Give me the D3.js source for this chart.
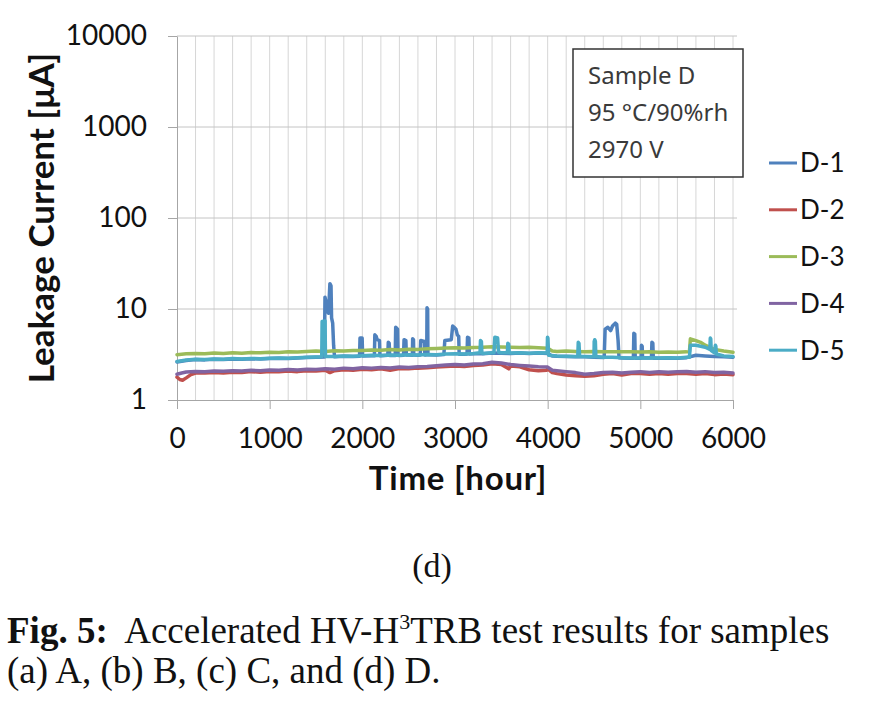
<!DOCTYPE html>
<html><head><meta charset="utf-8">
<script src="https://cdn.jsdelivr.net/npm/d3@7"></script>
<style>
body{margin:0;background:#fff;}
svg{display:block;}
</style></head>
<body>
<svg id="chart" width="869" height="702"></svg>
<script>
// ---------- DATA ----------
const seriesNames = ["D-1","D-2","D-3","D-4","D-5"];
const seriesColors = ["#4F81BD","#C0504D","#9BBB59","#8064A2","#4BACC6"];
const yTickValues = [1,10,100,1000,10000];
const xTickValues = [0,1000,2000,3000,4000,5000,6000];
const annotationLines = ["Sample D","95 °C/90%rh","2970 V"];

const d1Hours = [0,100,200,300,400,500,600,700,800,900,1000,1100,1200,1300,1400,1500,1590,1597,1608,1615,1635,1650,1662,1668,1680,1690,1700,1800,1900,1970,1975,1998,2003,2100,2130,2135,2150,2160,2185,2190,2200,2275,2280,2290,2295,2300,2355,2360,2380,2385,2400,2445,2450,2470,2475,2500,2540,2543,2552,2555,2600,2625,2630,2670,2675,2695,2698,2705,2708,2800,2880,2890,2960,2975,2990,3010,3025,3040,3045,3100,3130,3135,3150,3155,3200,3300,3400,3500,3600,3700,3800,3900,4000,4050,4100,4200,4300,4400,4500,4610,4620,4650,4680,4700,4730,4745,4760,4770,4800,4900,4925,4930,4940,4945,5008,5012,5020,5024,5100,5120,5125,5135,5140,5200,5300,5400,5500,5600,5700,5800,5900,6000];
const d1Values = [2.62,2.72,2.78,2.76,2.8,2.78,2.83,2.8,2.84,2.82,2.86,2.88,2.85,2.9,2.93,2.95,2.96,13.5,12,10,9,19,18,8,7,4,2.98,3.02,3.0,3.03,4.8,4.8,3.04,3.07,3.06,5.2,5.0,4.6,4.5,3.06,3.06,3.1,4.3,4.2,3.08,3.1,3.08,6.3,6.0,3.1,3.08,3.1,4.6,4.5,3.12,3.12,3.1,4.7,4.6,3.12,3.1,3.12,4.5,4.4,3.12,3.14,10.3,10,3.14,3.13,3.16,4.5,4.6,6.5,6.3,6.0,5.2,5.0,3.18,3.18,3.2,4.9,4.8,3.2,3.22,3.22,3.28,3.26,3.25,3.28,3.24,3.28,3.25,3.05,3.02,3.0,2.98,2.98,2.95,2.93,6.0,6.3,5.8,6.5,7.0,6.8,4.5,2.92,2.9,2.88,2.88,5.4,5.3,2.88,2.88,4.0,3.9,2.9,2.9,2.9,4.3,4.2,2.88,2.88,2.9,2.88,2.92,3.1,3.05,3.0,2.98,2.95];

const d2Hours = [0,30,60,100,150,200,300,400,500,600,700,800,900,1000,1100,1200,1300,1400,1500,1600,1650,1700,1800,1900,2000,2100,2200,2300,2400,2500,2600,2700,2800,2900,3000,3100,3200,3300,3400,3500,3580,3600,3700,3800,3900,3990,4000,4050,4100,4200,4300,4400,4500,4600,4700,4800,4900,5000,5100,5200,5300,5400,5500,5600,5700,5800,5900,6000];
const d2Values = [1.78,1.68,1.65,1.75,1.9,1.98,1.98,2.0,1.98,2.02,2.0,2.05,2.02,2.06,2.05,2.08,2.05,2.1,2.08,2.12,2.0,2.1,2.15,2.12,2.18,2.15,2.2,2.12,2.22,2.2,2.24,2.26,2.3,2.34,2.36,2.34,2.4,2.42,2.5,2.46,2.2,2.36,2.32,2.15,2.1,2.12,2.2,2.0,1.95,1.88,1.85,1.82,1.85,1.92,1.95,1.88,1.95,1.96,1.92,1.96,1.92,1.96,1.95,1.92,1.96,1.9,1.93,1.9];

const d3Hours = [0,100,200,300,400,500,600,700,800,900,1000,1100,1200,1300,1400,1500,1600,1700,1800,1900,2000,2100,2200,2300,2400,2500,2600,2700,2800,2900,3000,3100,3200,3300,3400,3500,3600,3700,3800,3900,4000,4050,4100,4200,4300,4400,4500,4600,4700,4800,4900,5000,5100,5200,5300,5400,5500,5530,5540,5600,5650,5700,5750,5800,5900,6000];
const d3Values = [3.15,3.22,3.25,3.22,3.28,3.25,3.3,3.27,3.32,3.3,3.35,3.33,3.38,3.36,3.42,3.45,3.42,3.48,3.45,3.5,3.5,3.55,3.52,3.58,3.55,3.62,3.6,3.65,3.68,3.72,3.75,3.72,3.78,3.8,3.85,3.82,3.8,3.78,3.8,3.75,3.7,3.45,3.42,3.45,3.42,3.4,3.42,3.4,3.38,3.4,3.38,3.36,3.38,3.35,3.37,3.35,3.38,3.4,4.7,4.5,4.3,4.0,3.8,3.6,3.45,3.35];

const d4Hours = [0,50,100,200,300,400,500,600,700,800,900,1000,1100,1200,1300,1400,1500,1600,1700,1800,1900,2000,2100,2200,2300,2400,2500,2600,2700,2800,2900,3000,3100,3200,3300,3400,3500,3600,3700,3800,3900,4000,4050,4100,4200,4300,4400,4500,4600,4700,4800,4900,5000,5100,5200,5300,5400,5500,5600,5700,5800,5900,6000];
const d4Values = [1.92,1.98,2.03,2.06,2.05,2.08,2.07,2.1,2.08,2.12,2.1,2.14,2.12,2.16,2.14,2.18,2.16,2.2,2.18,2.24,2.2,2.26,2.24,2.28,2.25,2.3,2.28,2.32,2.34,2.38,2.42,2.45,2.42,2.48,2.5,2.6,2.55,2.45,2.4,2.36,2.32,2.3,2.12,2.1,2.05,2.0,1.92,1.95,2.0,2.02,1.98,2.02,2.05,2.0,2.04,2.02,2.05,2.06,2.02,2.05,2.0,2.02,1.98];

const d5Hours = [0,100,200,300,400,500,600,700,800,900,1000,1100,1200,1300,1400,1500,1562,1566,1598,1602,1700,1800,1900,2000,2100,2200,2300,2400,2500,2600,2700,2800,2900,3000,3100,3200,3270,3275,3285,3290,3300,3400,3420,3430,3460,3470,3500,3565,3570,3580,3585,3600,3700,3800,3900,3995,3998,4003,4010,4100,4200,4300,4325,4330,4338,4345,4400,4500,4502,4508,4515,4520,4600,4700,4800,4900,5000,5100,5200,5300,5400,5500,5530,5540,5600,5700,5750,5755,5760,5765,5800,5810,5815,5820,5900,6000];
const d5Values = [2.65,2.75,2.8,2.78,2.82,2.8,2.85,2.83,2.86,2.84,2.88,2.9,2.87,2.92,2.95,2.97,2.98,7.3,7.4,3.0,3.0,3.05,3.02,3.06,3.1,3.08,3.12,3.1,3.14,3.12,3.16,3.15,3.2,3.22,3.2,3.25,3.3,4.5,4.4,3.3,3.25,3.3,3.3,4.9,4.8,3.35,3.3,3.3,4.2,4.1,3.3,3.28,3.3,3.26,3.3,3.28,4.9,4.8,3.1,3.05,3.02,3.0,3.0,4.3,4.2,3.0,3.0,2.98,4.4,4.6,4.4,3.0,2.95,2.95,2.92,2.9,2.9,2.92,2.9,2.92,2.9,2.95,2.95,4.0,4.0,3.8,3.6,4.8,4.7,3.5,3.3,4.0,3.9,3.2,3.05,3.0];

const seriesHours = [d1Hours,d2Hours,d3Hours,d4Hours,d5Hours];
const seriesValues = [d1Values,d2Values,d3Values,d4Values,d5Values];

// ---------- CHART ----------
const svg = d3.select("#chart");
svg.append("rect").attr("width",869).attr("height",702).attr("fill","#fff");

const x = d3.scaleLinear().domain([0,6000]).range([177,733]);
const y = d3.scaleLog().domain([1,10000]).range([400,36]);

const sansFont = "Lato, 'Open Sans', 'Noto Sans', sans-serif";

// gridlines
const grid = svg.append("g");
grid.selectAll("line.v").data(d3.range(200,6001,200)).join("line")
  .attr("x1",d=>x(d)).attr("x2",d=>x(d)).attr("y1",y(10000)).attr("y2",y(1))
  .attr("stroke","#d6d6d6").attr("stroke-width",1);
grid.selectAll("line.h").data(yTickValues.slice(1)).join("line")
  .attr("x1",x(0)).attr("x2",x(6000)+4).attr("y1",d=>y(d)).attr("y2",d=>y(d))
  .attr("stroke","#c4c4c4").attr("stroke-width",1);

// axes
const yAxis = svg.append("g").attr("transform",`translate(${x(0)},0)`)
  .call(d3.axisLeft(y).tickValues(yTickValues).tickFormat(d3.format("d")).tickSize(9).tickSizeOuter(0).tickPadding(21));
yAxis.select(".domain").attr("stroke","#a6a6a6");
yAxis.selectAll(".tick line").attr("stroke","#a6a6a6");
yAxis.selectAll(".tick text").attr("font-family",sansFont).attr("font-size",28).attr("fill","#111");

const xAxis = svg.append("g").attr("transform",`translate(0,${y(1)})`)
  .call(d3.axisBottom(x).tickValues(xTickValues).tickFormat(d3.format("d")).tickSize(9).tickSizeOuter(0));
xAxis.select(".domain").attr("stroke","#a6a6a6");
xAxis.selectAll(".tick line").attr("stroke","#a6a6a6");
xAxis.selectAll(".tick text").attr("font-family",sansFont).attr("font-size",28).attr("fill","#111")
  .attr("dy",null).attr("y",48);

// series lines
const line = d3.line().x(d=>x(d[0])).y(d=>y(d[1]));
const plot = svg.append("g");
seriesNames.forEach((name,i)=>{
  const pts = seriesHours[i].map((h,j)=>[h,seriesValues[i][j]]);
  plot.append("path").datum(pts).attr("d",line)
    .attr("fill","none").attr("stroke",seriesColors[i]).attr("stroke-width",3.5)
    .attr("stroke-linejoin","round").attr("stroke-linecap","round");
});

// axis titles
svg.append("text").attr("transform","translate(54,218) rotate(-90)")
  .attr("text-anchor","middle").attr("font-family",sansFont).attr("font-weight","bold")
  .attr("font-size",35).attr("fill","#111").text("Leakage Current [μA]");
svg.append("text").attr("x",458).attr("y",490).attr("text-anchor","middle")
  .attr("font-family",sansFont).attr("font-weight","bold").attr("font-size",33)
  .attr("letter-spacing",0.8).attr("fill","#111")
  .text("Time [hour]");

// annotation box
svg.append("rect").attr("x",573).attr("y",49).attr("width",170).attr("height",128)
  .attr("fill","#fff").attr("stroke","#333").attr("stroke-width",1.5);
svg.selectAll("text.ann").data(annotationLines).join("text")
  .attr("x",588).attr("y",(d,i)=>84+i*37)
  .attr("font-family","'Noto Sans', 'Open Sans', sans-serif").attr("font-size",24).attr("fill","#3a3a3a")
  .text(d=>d);

// legend
const leg = svg.append("g");
seriesNames.forEach((name,i)=>{
  const ly = 163 + i*46.8;
  leg.append("line").attr("x1",769).attr("x2",797).attr("y1",ly).attr("y2",ly)
    .attr("stroke",seriesColors[i]).attr("stroke-width",3);
  leg.append("text").attr("x",800).attr("y",ly).attr("dy","0.36em")
    .attr("font-family",sansFont).attr("font-size",26).attr("fill","#111").text(name);
});

// caption
const serif = "'Liberation Serif','Times New Roman',serif";
svg.append("text").attr("x",432).attr("y",577).attr("text-anchor","middle")
  .attr("font-family",serif).attr("font-size",34).attr("fill","#111").text("(d)");
const cap1 = svg.append("text").attr("x",7).attr("y",643).attr("font-family",serif).attr("font-size",37).attr("fill","#111");
cap1.append("tspan").attr("font-weight","bold").text("Fig. 5:");
cap1.append("tspan").attr("xml:space","preserve").text("  Accelerated HV-H");
cap1.append("tspan").attr("font-size",22).attr("dy",-14).text("3");
cap1.append("tspan").attr("dy",14).text("TRB test results for samples");
svg.append("text").attr("x",7).attr("y",683).attr("font-family",serif).attr("font-size",37).attr("fill","#111")
  .text("(a) A, (b) B, (c) C, and (d) D.");
</script>
</body></html>
